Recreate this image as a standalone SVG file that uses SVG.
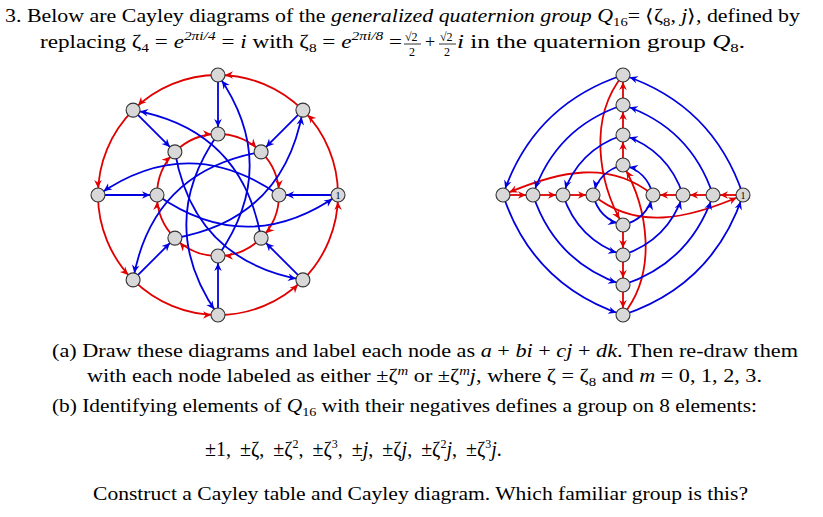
<svg xmlns="http://www.w3.org/2000/svg" width="823" height="517" viewBox="0 0 823 517">
<style>
.t{font-family:"Liberation Serif",serif;font-size:18px;fill:#000}
.it{font-style:italic}
.s{font-size:12px}
.r{fill:none;stroke:#e00000;stroke-width:1.8;marker-end:url(#ar)}
.b{fill:none;stroke:#0000e0;stroke-width:1.8;marker-end:url(#ab)}
.n{fill:#d8d8d8;stroke:#333;stroke-width:1.1}
.l{font-family:"Liberation Serif",serif;font-size:10px;text-anchor:middle}
</style>
<defs>
<marker id="ar" viewBox="-16 -5 17 10" markerWidth="17" markerHeight="10" refX="0" refY="0" orient="auto" markerUnits="userSpaceOnUse"><path d="M-7,0 L-15,-3.8 L-12.5,0 L-15,3.8 Z" fill="#e00000"/></marker>
<marker id="ab" viewBox="-16 -5 17 10" markerWidth="17" markerHeight="10" refX="0" refY="0" orient="auto" markerUnits="userSpaceOnUse"><path d="M-7,0 L-15,-3.8 L-12.5,0 L-15,3.8 Z" fill="#0000e0"/></marker>
</defs>
<rect width="823" height="517" fill="#fff"/>
<g id="text">
<text class="t" x="5" y="22" textLength="795" lengthAdjust="spacingAndGlyphs">3.  Below are Cayley diagrams of the <tspan class="it">generalized quaternion group Q</tspan><tspan class="s" dy="4">16</tspan><tspan dy="-4">= ⟨ζ</tspan><tspan class="s" dy="4">8</tspan><tspan dy="-4">, </tspan><tspan class="it">j</tspan>⟩, defined by</text>
<text class="t" x="40" y="48" textLength="362" lengthAdjust="spacingAndGlyphs">replacing ζ<tspan class="s" dy="4">4</tspan><tspan dy="-4"> = </tspan><tspan class="it">e</tspan><tspan class="s it" dy="-8">2πi/4</tspan><tspan dy="8"> = </tspan><tspan class="it">i</tspan> with ζ<tspan class="s" dy="4">8</tspan><tspan dy="-4"> = </tspan><tspan class="it">e</tspan><tspan class="s it" dy="-8">2πi/8</tspan><tspan dy="8"> =</tspan></text>
<text class="t" x="405" y="41" style="font-size:12px">√2</text>
<line x1="404" y1="44" x2="421" y2="44" stroke="#000" stroke-width="0.8"/>
<text class="t" x="409" y="56" style="font-size:12px">2</text>
<text class="t" x="425" y="48">+</text>
<text class="t" x="440" y="41" style="font-size:12px">√2</text>
<line x1="439" y1="44" x2="456" y2="44" stroke="#000" stroke-width="0.8"/>
<text class="t" x="444" y="56" style="font-size:12px">2</text>
<text class="t" x="457" y="48" textLength="288" lengthAdjust="spacingAndGlyphs"><tspan class="it">i</tspan> in the quaternion group <tspan class="it">Q</tspan><tspan class="s" dy="4">8</tspan><tspan dy="-4">.</tspan></text>
<text class="t" x="52" y="357" textLength="746" lengthAdjust="spacingAndGlyphs">(a)  Draw these diagrams and label each node as <tspan class="it">a</tspan> + <tspan class="it">bi</tspan> + <tspan class="it">cj</tspan> + <tspan class="it">dk</tspan>. Then re-draw them</text>
<text class="t" x="87" y="382" textLength="675" lengthAdjust="spacingAndGlyphs">with each node labeled as either ±ζ<tspan class="s it" dy="-7">m</tspan><tspan dy="7"> or ±ζ</tspan><tspan class="s it" dy="-7">m</tspan><tspan class="it" dy="7">j</tspan>, where ζ = ζ<tspan class="s" dy="4">8</tspan><tspan dy="-4"> and </tspan><tspan class="it">m</tspan> = 0, 1, 2, 3.</text>
<text class="t" x="52" y="412" textLength="705" lengthAdjust="spacingAndGlyphs">(b)  Identifying elements of <tspan class="it">Q</tspan><tspan class="s" dy="4">16</tspan><tspan dy="-4"> with their negatives defines a group on 8 elements:</tspan></text>
<text class="t" x="205" y="456" style="font-size:20px;word-spacing:4px">±1,  ±ζ,  ±ζ<tspan class="s" dy="-8">2</tspan><tspan dy="8">,  ±ζ</tspan><tspan class="s" dy="-8">3</tspan><tspan dy="8">,  ±</tspan><tspan class="it">j</tspan>,  ±ζ<tspan class="it">j</tspan>,  ±ζ<tspan class="s" dy="-8">2</tspan><tspan class="it" dy="8">j</tspan>,  ±ζ<tspan class="s" dy="-8">3</tspan><tspan class="it" dy="8">j</tspan>.</text>
<text class="t" x="93" y="500" textLength="655" lengthAdjust="spacingAndGlyphs">Construct a Cayley table and Cayley diagram. Which familiar group is this?</text>
</g>
<g id="connectors">
<path class="r" d="M338,195 A120,120 0 0 0 302.9,110.1"/>
<path class="r" d="M302.9,110.1 A120,120 0 0 0 218,75"/>
<path class="r" d="M218,75 A120,120 0 0 0 133.1,110.1"/>
<path class="r" d="M133.1,110.1 A120,120 0 0 0 98,195"/>
<path class="r" d="M98,195 A120,120 0 0 0 133.1,279.9"/>
<path class="r" d="M133.1,279.9 A120,120 0 0 0 218,315"/>
<path class="r" d="M218,315 A120,120 0 0 0 302.9,279.9"/>
<path class="r" d="M302.9,279.9 A120,120 0 0 0 338,195"/>
<path class="r" d="M279,195 A61,61 0 0 1 261.1,238.1"/>
<path class="r" d="M261.1,238.1 A61,61 0 0 1 218,256"/>
<path class="r" d="M218,256 A61,61 0 0 1 174.9,238.1"/>
<path class="r" d="M174.9,238.1 A61,61 0 0 1 157,195"/>
<path class="r" d="M157,195 A61,61 0 0 1 174.9,151.9"/>
<path class="r" d="M174.9,151.9 A61,61 0 0 1 218,134"/>
<path class="r" d="M218,134 A61,61 0 0 1 261.1,151.9"/>
<path class="r" d="M261.1,151.9 A61,61 0 0 1 279,195"/>
<path class="b" d="M338,195 L279,195"/>
<path class="b" d="M302.9,110.1 L261.1,151.9"/>
<path class="b" d="M218,75 L218,134"/>
<path class="b" d="M133.1,110.1 L174.9,151.9"/>
<path class="b" d="M98,195 L157,195"/>
<path class="b" d="M133.1,279.9 L174.9,238.1"/>
<path class="b" d="M218,315 L218,256"/>
<path class="b" d="M302.9,279.9 L261.1,238.1"/>
<path class="b" d="M279,195 Q188.5,131.6 98,195"/>
<path class="b" d="M261.1,151.9 Q152.3,171.1 133.1,279.9"/>
<path class="b" d="M218,134 Q154.65,224.5 218,315"/>
<path class="b" d="M174.9,151.9 Q194.1,260.7 302.9,279.9"/>
<path class="b" d="M157,195 Q247.5,258.35 338,195"/>
<path class="b" d="M174.9,238.1 Q283.7,218.9 302.9,110.1"/>
<path class="b" d="M218,256 Q281.35,165.5 218,75"/>
<path class="b" d="M261.1,238.1 Q241.9,129.3 133.1,110.1"/>
<path class="r" d="M743,195 L713,195"/>
<path class="r" d="M713,195 L683,195"/>
<path class="r" d="M683,195 L653,195"/>
<path class="r" d="M503,195 L533,195"/>
<path class="r" d="M533,195 L563,195"/>
<path class="r" d="M563,195 L593,195"/>
<path class="r" d="M623,165 L623,135"/>
<path class="r" d="M623,135 L623,105"/>
<path class="r" d="M623,105 L623,75"/>
<path class="r" d="M623,225 L623,255"/>
<path class="r" d="M623,255 L623,285"/>
<path class="r" d="M623,285 L623,315"/>
<path class="r" d="M653,195 C610,160 560,170 503,195"/>
<path class="r" d="M593,195 C636,230 686,220 743,195"/>
<path class="r" d="M623,75 C588,118 598,182 623,225"/>
<path class="r" d="M623,315 C658,272 648,208 623,165"/>
<path class="b" d="M743,195 Q713,105 623,75"/>
<path class="b" d="M623,75 Q533,105 503,195"/>
<path class="b" d="M503,195 Q533,285 623,315"/>
<path class="b" d="M623,315 Q713,285 743,195"/>
<path class="b" d="M713,195 Q690.5,127.5 623,105"/>
<path class="b" d="M623,105 Q555.5,127.5 533,195"/>
<path class="b" d="M533,195 Q555.5,262.5 623,285"/>
<path class="b" d="M623,285 Q690.5,262.5 713,195"/>
<path class="b" d="M683,195 Q668,150 623,135"/>
<path class="b" d="M623,135 Q578,150 563,195"/>
<path class="b" d="M563,195 Q578,240 623,255"/>
<path class="b" d="M623,255 Q668,240 683,195"/>
<path class="b" d="M653,195 Q647,171 623,165"/>
<path class="b" d="M623,165 Q599,171 593,195"/>
<path class="b" d="M593,195 Q599,219 623,225"/>
<path class="b" d="M623,225 Q647,219 653,195"/>
</g>
<g id="nodes-left">
<circle id="L-O0" class="n" cx="338" cy="195" r="7"/><text class="l" x="338" y="198.5">1</text>
<circle id="L-O1" class="n" cx="302.9" cy="110.1" r="7"/>
<circle id="L-O2" class="n" cx="218" cy="75" r="7"/>
<circle id="L-O3" class="n" cx="133.1" cy="110.1" r="7"/>
<circle id="L-O4" class="n" cx="98" cy="195" r="7"/>
<circle id="L-O5" class="n" cx="133.1" cy="279.9" r="7"/>
<circle id="L-O6" class="n" cx="218" cy="315" r="7"/>
<circle id="L-O7" class="n" cx="302.9" cy="279.9" r="7"/>
<circle id="L-I0" class="n" cx="279" cy="195" r="7"/>
<circle id="L-I1" class="n" cx="261.1" cy="151.9" r="7"/>
<circle id="L-I2" class="n" cx="218" cy="134" r="7"/>
<circle id="L-I3" class="n" cx="174.9" cy="151.9" r="7"/>
<circle id="L-I4" class="n" cx="157" cy="195" r="7"/>
<circle id="L-I5" class="n" cx="174.9" cy="238.1" r="7"/>
<circle id="L-I6" class="n" cx="218" cy="256" r="7"/>
<circle id="L-I7" class="n" cx="261.1" cy="238.1" r="7"/>
</g>
<g id="nodes-right">
<circle id="R-R4" class="n" cx="743" cy="195" r="7"/><text class="l" x="743" y="198.5">1</text>
<circle id="R-R3" class="n" cx="713" cy="195" r="7"/>
<circle id="R-R2" class="n" cx="683" cy="195" r="7"/>
<circle id="R-R1" class="n" cx="653" cy="195" r="7"/>
<circle id="R-L1" class="n" cx="593" cy="195" r="7"/>
<circle id="R-L2" class="n" cx="563" cy="195" r="7"/>
<circle id="R-L3" class="n" cx="533" cy="195" r="7"/>
<circle id="R-L4" class="n" cx="503" cy="195" r="7"/>
<circle id="R-T1" class="n" cx="623" cy="165" r="7"/>
<circle id="R-T2" class="n" cx="623" cy="135" r="7"/>
<circle id="R-T3" class="n" cx="623" cy="105" r="7"/>
<circle id="R-T4" class="n" cx="623" cy="75" r="7"/>
<circle id="R-B1" class="n" cx="623" cy="225" r="7"/>
<circle id="R-B2" class="n" cx="623" cy="255" r="7"/>
<circle id="R-B3" class="n" cx="623" cy="285" r="7"/>
<circle id="R-B4" class="n" cx="623" cy="315" r="7"/>
</g>
</svg>
